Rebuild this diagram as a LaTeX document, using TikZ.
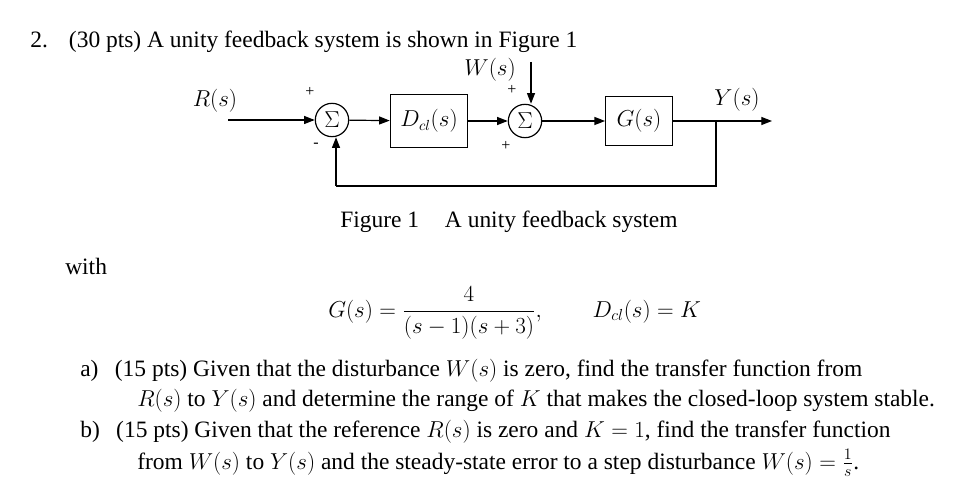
\documentclass[tikz,border=0pt]{standalone}
\usepackage{amsmath}
\usepackage{fontspec}
\setmainfont{Liberation Serif}
\usetikzlibrary{arrows.meta}
\begin{document}
\begin{tikzpicture}[x=0.75pt,y=-0.75pt,
  txt/.style={anchor=base west,inner sep=0pt,font=\fontsize{17.6}{20}\selectfont},
  dtxt/.style={inner sep=0pt,font=\fontsize{16}{18}\selectfont},
  sum/.style={draw,circle,minimum size=25pt,inner sep=0pt,line width=0.9pt,font=\fontsize{16}{18}\selectfont},
  blk/.style={draw,rectangle,line width=0.9pt,font=\fontsize{16}{18}\selectfont},
  sig/.style={line width=0.9pt,-{Triangle[length=8pt,width=6pt]}},
  ln/.style={line width=0.9pt}]
\useasboundingbox (0,0) rectangle (969,495);
\node[txt] (t1) at (30,48) {2.\hspace{0.9em}(30 pts) A unity feedback system is shown in Figure 1};
% diagram
\node[sum] (s1) at (332,120) {$\Sigma$};
\node[blk,minimum width=58pt,minimum height=40pt] (D) at (429,121) {$D_{cl}(s)$};
\node[sum] (s2) at (525,121) {$\Sigma$};
\node[blk,minimum width=50pt,minimum height=37pt] (G) at (639,121) {$G(s)$};
\coordinate (r) at (228,120);
\coordinate (br) at (716,121);
\coordinate (y) at (772,121);
\coordinate (w) at (531,62);
\coordinate (fb1) at (716,186);
\coordinate (fb2) at (336,186);
\draw[sig] (r) -- (s1);
\draw[sig] (s1) -- (D);
\draw[sig] (D) -- (s2);
\draw[sig] (s2) -- (G);
\draw[ln] (G) -- (br);
\draw[sig] (br) -- (y);
\draw[sig] (w) -- (w |- s2.north);
\draw[ln] (br) -- (fb1) -- (fb2);
\draw[sig] (fb2) -- (fb2 |- s1.south);
\node[dtxt] (lr) at (215,101) {$R(s)$};
\node[dtxt] (lw) at (490,70) {$W(s)$};
\node[dtxt] (ly) at (737,100) {$Y(s)$};
\node[dtxt,font=\fontsize{12}{13}\selectfont] (p1) at (310,92) {+};
\node[dtxt,font=\fontsize{12}{13}\selectfont] (m1) at (316,145) {-};
\node[dtxt,font=\fontsize{12}{13}\selectfont] (p2) at (512,90) {+};
\node[dtxt,font=\fontsize{12}{13}\selectfont] (p3) at (506,146) {+};
\node[txt] (cap) at (340,227) {Figure 1\hspace{1.1em}A unity feedback system};
\node[txt] (with) at (65,274) {with};
\node[txt,anchor=west] (eq) at (328,313) {$\displaystyle G(s)=\frac{4}{(s-1)(s+3)},\qquad D_{cl}(s)=K$};
\node[txt] (a1) at (80,376) {a)\hspace{0.7em}(15 pts) Given that the disturbance $W(s)$ is zero, find the transfer function from};
\node[txt] (a2) at (137,406) {$R(s)$ to $Y(s)$ and determine the range of $K$ that makes the closed-loop system stable.};
\node[txt] (b1) at (80,437) {b)\hspace{0.7em}(15 pts) Given that the reference $R(s)$ is zero and $K=1$, find the transfer function};
\node[txt] (b2) at (137,469) {from $W(s)$ to $Y(s)$ and the steady-state error to a step disturbance $W(s)=\frac{1}{s}$.};
\end{tikzpicture}
\end{document}
